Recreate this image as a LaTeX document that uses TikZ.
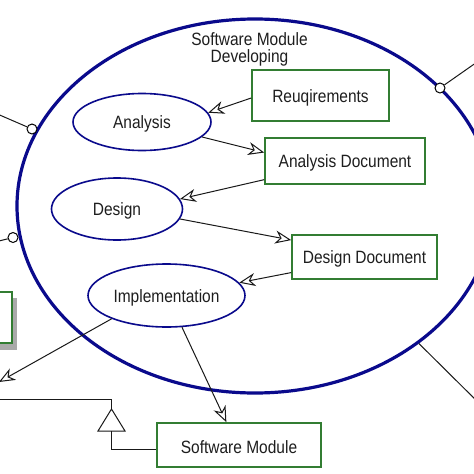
\documentclass[tikz,border=0pt]{standalone}
\usepackage{fontspec}
\usepackage{graphicx}
\setmainfont{Liberation Sans}
\usetikzlibrary{arrows.meta,shapes.geometric}
\definecolor{navy}{RGB}{10,10,140}
\definecolor{boxgreen}{RGB}{50,125,50}
\definecolor{shadowgrey}{RGB}{170,170,170}
\definecolor{txt}{RGB}{30,30,30}
\newcommand{\lbl}[1]{\raisebox{-2pt}[\height][\depth]{\scalebox{1}[1.15]{#1}}}
\begin{document}
\begin{tikzpicture}[x=1pt,y=-1pt,
  every node/.style={font=\fontsize{15.5}{14}\selectfont, text=txt, inner sep=0pt},
  usecase/.style={ellipse, draw=navy, line width=1.6pt, fill=white},
  docbox/.style={rectangle, draw=boxgreen, line width=1.6pt, fill=white},
  conn/.style={draw=black!90, line width=1pt},
  dep/.style={conn, -{Stealth[open, length=16pt, width=13pt, inset=5pt]}},
  lolli/.style={circle, draw=black, line width=1pt, fill=white, minimum size=10pt}]
\useasboundingbox (0,0) rectangle (474,474);
\clip (0,0) rectangle (474,474);
\fill[white] (0,0) rectangle (474,474);

% big use case
\node[ellipse, draw=navy, line width=3.2pt, minimum width=476pt, minimum height=374pt] (big) at (255,206) {};
\node (title) at (249.5,48) {\lbl{\begin{tabular}{@{}c@{}}Software Module\\Developing\end{tabular}}};

% partial box at left with shadow
\fill[shadowgrey] (-20,298) rectangle (17,350);
\node[docbox, minimum width=40pt, minimum height=51pt] (lbox) at (-8,317.5) {};

% inner use cases
\node[usecase, minimum width=138pt, minimum height=57pt] (analysis) at (142,122) {\lbl{Analysis}};
\node[usecase, minimum width=131pt, minimum height=62pt] (design) at (117,209) {\lbl{Design}};
\node[usecase, minimum width=157pt, minimum height=63pt] (impl) at (166.5,295.5) {\lbl{Implementation}};

% documents
\node[docbox, minimum width=137pt, minimum height=51pt] (req) at (320.5,95.5) {\lbl{Reuqirements}};
\node[docbox, minimum width=160pt, minimum height=46pt] (adoc) at (345,161) {\lbl{Analysis Document}};
\node[docbox, minimum width=145pt, minimum height=44pt] (ddoc) at (364.5,257) {\lbl{Design Document}};
\node[docbox, minimum width=164pt, minimum height=44pt] (smod) at (239,445) {\lbl{Software Module}};

% lollipops and outer lines
\node[lolli] (c1) at (32,129) {};
\node[lolli] (c2) at (13,237.5) {};
\node[lolli] (c3) at (440,88) {};
\coordinate (e1) at (-5,113);
\coordinate (e2) at (-5,242);
\coordinate (e3) at (490,53);
\coordinate (e4) at (490,414);
\draw[conn] (e1) -- (c1);
\draw[conn] (e2) -- (c2);
\draw[conn] (c3) -- (e3);
\draw[conn] (big.-40) -- (e4);

% dependencies
\draw[dep] ([yshift=-2.5pt]req.west) -- (analysis.8);
\draw[dep] (analysis.-14) -- (adoc.174);
\draw[dep] (adoc.193) -- (design.9);
\draw[dep] (design.-9) -- (ddoc.167);
\draw[dep] (ddoc.192) -- (impl.10);
\coordinate (la) at (-1,382);
\draw[dep] (impl.203) -- (la);
\draw[dep] (impl.-64) -- (smod.119);

% generalization
\coordinate (g0) at (-5,399);
\coordinate (g1) at (111.5,399);
\coordinate (ga) at (111.5,409);
\coordinate (gb) at (111.5,431);
\coordinate (gc) at (111.5,449);
\draw[conn] (g0) -- (g1) -- (ga);
\draw[conn, fill=white] (ga) -- (98,431) -- (125,431) -- cycle;
\draw[conn] (gb) -- (gc) -- (gc -| smod.west);
\end{tikzpicture}
\end{document}
